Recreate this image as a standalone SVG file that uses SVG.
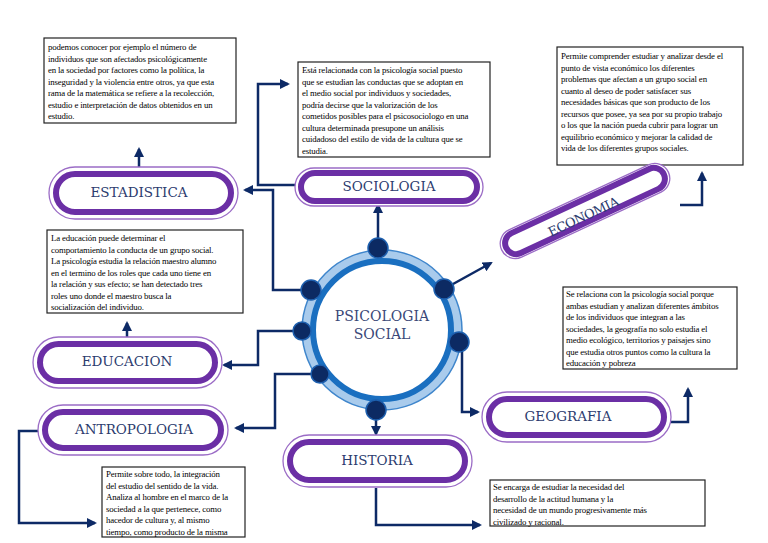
<svg xmlns="http://www.w3.org/2000/svg" width="768" height="543" viewBox="0 0 768 543">
<defs>
<marker id="ah" viewBox="0 0 10 10" refX="8" refY="5" markerWidth="4" markerHeight="4" orient="auto"><path d="M0,0L10,5L0,10z" fill="#0d2a66"/></marker>
<style>
.po{fill:#fff;stroke:#9b6cc6;stroke-width:1.3}
.pi{fill:#fff;stroke:#6b2fa5;stroke-width:6}
.pt{font-family:"DejaVu Serif",serif;font-size:13.5px;fill:#2c3b6e;text-anchor:middle}
.bx{fill:#fff;stroke:#222;stroke-width:1.2}
.tx{font-family:"Liberation Serif",serif;font-size:8.8px;fill:#000;letter-spacing:-0.15px}
.cn{fill:none;stroke:#0d2a66;stroke-width:2.5;marker-end:url(#ah)}
.dot{fill:#0c2a63;stroke:#1d5fae;stroke-width:1.5}
</style>
</defs>
<rect width="768" height="543" fill="#fff"/>
<g id="connectors">
<path class="cn" d="M139,167V149"/>
<path class="cn" d="M296,185H258V84H288"/>
<path class="cn" d="M311,290H273V190H245"/>
<path class="cn" d="M127,337V323"/>
<path class="cn" d="M302,331H258V365H224"/>
<path class="cn" d="M320,374H275V428H236"/>
<path class="cn" d="M40,431H19V523H95"/>
<path class="cn" d="M378,248V205"/>
<path class="cn" d="M444,289L491,263"/>
<path class="cn" d="M680,205H702V173"/>
<path class="cn" d="M459,342H462V412H478"/>
<path class="cn" d="M670,422H688V389"/>
<path class="cn" d="M376,410V434"/>
<path class="cn" d="M376,488V525H480"/>
</g>
<g id="center">
<circle cx="382" cy="330" r="80" fill="#a9cbec" stroke="#3f86cc" stroke-width="1.5"/>
<circle cx="382" cy="330" r="69" fill="#fff" stroke="#1a6fc0" stroke-width="6"/>
<text x="382" y="321" class="pt" style="font-size:14px;fill:#3a4878">PSICOLOGIA</text>
<text x="382" y="339" class="pt" style="font-size:14px;fill:#3a4878">SOCIAL</text>
<circle class="dot" cx="378" cy="248" r="10"/>
<circle class="dot" cx="444" cy="289" r="10"/>
<circle class="dot" cx="459" cy="342" r="10"/>
<circle class="dot" cx="376" cy="410" r="10"/>
<circle class="dot" cx="311" cy="290" r="10"/>
<circle class="dot" cx="302" cy="331" r="9"/>
<circle class="dot" cx="320" cy="374" r="9"/>
</g>
<g id="estadistica">
<rect class="po" x="49" y="167" width="189" height="52" rx="26"/>
<rect class="pi" x="56" y="174" width="175" height="38" rx="19"/>
<text class="pt" x="139" y="197">ESTADISTICA</text>
<rect class="bx" x="44" y="38" width="192" height="85"/>
<text class="tx"><tspan x="48" y="50"> podemos conocer por ejemplo el número de</tspan><tspan x="48" y="61.5">individuos que son afectados psicológicamente</tspan><tspan x="48" y="73">en la sociedad por factores como la política, la</tspan><tspan x="48" y="84.5">inseguridad y la violencia entre otros, ya que esta</tspan><tspan x="48" y="96">rama de la matemática se refiere a la recolección,</tspan><tspan x="48" y="107.5">estudio e interpretación de datos obtenidos en un</tspan><tspan x="48" y="119">estudio.</tspan></text>
</g>
<g id="sociologia">
<rect class="po" x="295" y="168" width="188" height="38" rx="19"/>
<rect class="pi" x="301" y="173" width="176" height="28" rx="14"/>
<text class="pt" x="389" y="191">SOCIOLOGIA</text>
<rect class="bx" x="298" y="62" width="192" height="95"/>
<text class="tx"><tspan x="302" y="73">Está relacionada con la psicología social puesto</tspan><tspan x="302" y="84.5">que se estudian las conductas que se adoptan en</tspan><tspan x="302" y="96">el medio social por individuos y sociedades,</tspan><tspan x="302" y="107.5">podría decirse que la valorización de los</tspan><tspan x="302" y="119">cometidos posibles para el psicosociologo en una</tspan><tspan x="302" y="130.5">cultura determinada presupone un análisis</tspan><tspan x="302" y="142">cuidadoso del estilo de vida de la cultura que se</tspan><tspan x="302" y="153.5">estudia.</tspan></text>
</g>
<g id="economia">
<rect class="bx" x="557" y="47" width="186" height="118"/>
<text class="tx"><tspan x="561" y="59">Permite comprender estudiar y analizar desde el</tspan><tspan x="561" y="70.5">punto de vista económico los diferentes</tspan><tspan x="561" y="82">problemas que afectan a un grupo social en</tspan><tspan x="561" y="93.5">cuanto al deseo de poder satisfacer sus</tspan><tspan x="561" y="105">necesidades básicas que son producto de los</tspan><tspan x="561" y="116.5">recursos que posee, ya sea por su propio trabajo</tspan><tspan x="561" y="128">o los que la nación pueda cubrir para lograr un</tspan><tspan x="561" y="139.5">equilibrio económico y mejorar la calidad de</tspan><tspan x="561" y="151">vida de los diferentes grupos sociales.</tspan></text>
<g transform="translate(585,211) rotate(-25)">
<rect class="po" x="-92" y="-15" width="184" height="30" rx="15"/>
<rect class="pi" x="-87" y="-11" width="174" height="22" rx="11"/>
<text class="pt" x="-4" y="9" style="font-size:13px;letter-spacing:-0.5px">ECONOMIA</text>
</g>
</g>
<g id="educacion">
<rect class="bx" x="47" y="230" width="196" height="83"/>
<text class="tx"><tspan x="51" y="241"> La educación puede determinar el</tspan><tspan x="51" y="252.5">comportamiento la conducta de un grupo social.</tspan><tspan x="51" y="264">La psicología estudia la relación maestro alumno</tspan><tspan x="51" y="275.5">en el termino de los roles que cada uno tiene en</tspan><tspan x="51" y="287">la relación y sus efecto; se han detectado tres</tspan><tspan x="51" y="298.5">roles uno donde el maestro busca la</tspan><tspan x="51" y="310">socialización del individuo.</tspan></text>
<rect class="po" x="33" y="337" width="189" height="51" rx="25.5"/>
<rect class="pi" x="40" y="344" width="175" height="37" rx="18.5"/>
<text class="pt" x="127" y="366">EDUCACION</text>
</g>
<g id="antropologia">
<rect class="po" x="38" y="405" width="190" height="50" rx="25"/>
<rect class="pi" x="45" y="412" width="176" height="36" rx="18"/>
<text class="pt" x="134" y="434">ANTROPOLOGIA</text>
<rect class="bx" x="102" y="467" width="143" height="70"/>
<text class="tx"><tspan x="106" y="477">Permite sobre todo, la integración</tspan><tspan x="106" y="488.5">del estudio del sentido de la vida.</tspan><tspan x="106" y="500">Analiza al hombre en el marco de la</tspan><tspan x="106" y="511.5">sociedad a la que pertenece, como</tspan><tspan x="106" y="523">hacedor de cultura y, al mismo</tspan><tspan x="106" y="534.5">tiempo, como producto de la misma</tspan></text>
</g>
<g id="geografia">
<rect class="bx" x="563" y="287" width="174" height="82"/>
<text class="tx"><tspan x="566" y="297">Se relaciona con la psicología social porque</tspan><tspan x="566" y="308.5">ambas estudian y analizan diferentes ámbitos</tspan><tspan x="566" y="320">de los individuos que integran a las</tspan><tspan x="566" y="331.5">sociedades, la geografía no solo estudia el</tspan><tspan x="566" y="343">medio ecológico, territorios y paisajes sino</tspan><tspan x="566" y="354.5">que estudia otros puntos como la cultura la</tspan><tspan x="566" y="366">educación y pobreza</tspan></text>
<rect class="po" x="482" y="392" width="189" height="50" rx="25"/>
<rect class="pi" x="489" y="399" width="175" height="36" rx="18"/>
<text class="pt" x="568" y="421">GEOGRAFIA</text>
</g>
<g id="historia">
<rect class="po" x="283" y="435" width="189" height="52" rx="26"/>
<rect class="pi" x="290" y="442" width="175" height="38" rx="19"/>
<text class="pt" x="377" y="465">HISTORIA</text>
<rect class="bx" x="490" y="480" width="215" height="46"/>
<text class="tx"><tspan x="493" y="490">Se encarga de estudiar la necesidad del</tspan><tspan x="493" y="501.5">desarrollo de la actitud humana y la</tspan><tspan x="493" y="513">necesidad de un mundo progresivamente más</tspan><tspan x="493" y="524.5">civilizado y racional.</tspan></text>
</g>
</svg>
